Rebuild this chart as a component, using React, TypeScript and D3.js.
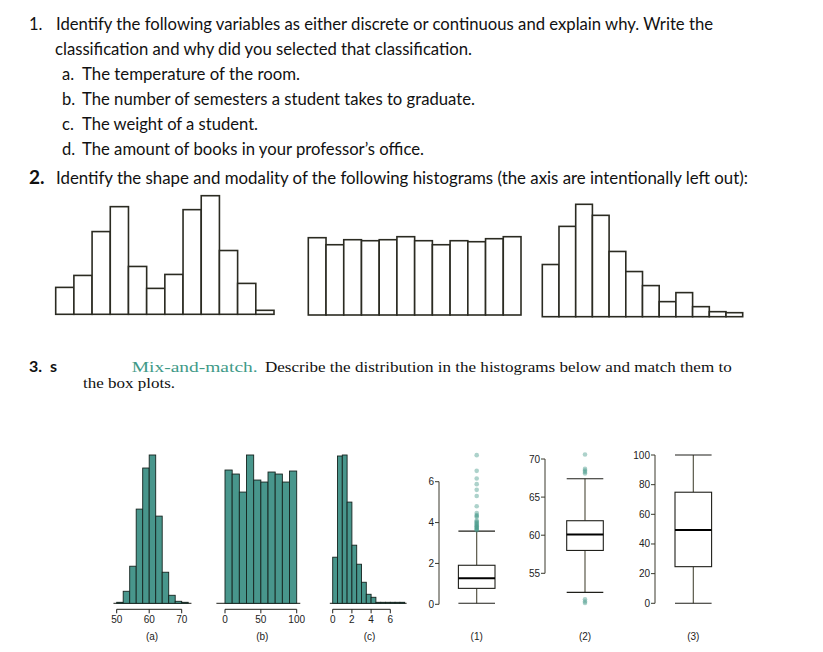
import * as d3 from "d3";

// ---- section 2: outline histograms (axis left out) ----
const bimodal = [27, 39, 83, 108, 48, 26, 40, 105, 119, 64, 31, 4];
const uniform = [77, 70, 75, 74, 75, 78, 74, 70, 74, 73, 76, 78];
const skewed = [52, 90, 112, 101, 65, 45, 31, 15, 24, 10, 5, 4];

// ---- section 3: teal histograms ----
const histA = [1, 12, 37, 94, 135, 148, 87, 31, 8, 2, 1]; // bins of 2 from 50
const histB = [133, 129, 111, 148, 123, 121, 131, 129, 121, 132]; // bins of 10 from 0
const histC = [46, 147, 148, 101, 58, 39, 21, 9, 6, 1, 1, 1, 1, 1, 1]; // bins of 0.5 from 0
const ticksA = [50, 60, 70];
const ticksB = [0, 50, 100];
const ticksC = [0, 2, 4, 6];

// ---- box plots ----
const box1 = { lo: 0.05, q1: 0.78, med: 1.27, q3: 1.91, hi: 3.58 };
const out1 = [3.62, 3.66, 3.7, 3.74, 3.78, 3.82, 3.86, 3.9, 3.95, 4.0, 4.05, 4.1, 4.27, 4.32, 4.37, 4.47, 4.8, 5.3, 5.6, 5.88, 6.16, 6.53, 7.3];
const ticks1 = [0, 2, 4, 6];
const box2 = { lo: 52.5, q1: 58.0, med: 60.1, q3: 61.9, hi: 67.4 };
const out2 = [70.6, 68.7, 68.5, 68.3, 68.1, 51.6, 51.3, 51.1];
const ticks2 = [55, 60, 65, 70];
const box3 = { lo: 0, q1: 24.7, med: 49.4, q3: 74.9, hi: 100 };
const out3: number[] = [];
const ticks3 = [0, 20, 40, 60, 80, 100];

const sans = "Lato, 'Open Sans', sans-serif";
const serif = "'Liberation Serif', 'Times New Roman', serif";
const small = "'Liberation Sans', Arial, sans-serif";
const teal = "#48968c";
const ink = "#1f1f1a";

function OutlineHist({ values, x0, x1, base, top }: { values: number[]; x0: number; x1: number; base: number; top: number }) {
  const x = d3.scaleLinear().domain([0, values.length]).range([x0, x1]);
  const y = d3.scaleLinear().domain([0, d3.max(values)!]).range([base, top]);
  return (
    <g>
      {values.map((v, i) => (
        <rect key={i} x={x(i)} y={y(v)} width={x(i + 1) - x(i)} height={base - y(v)}
          fill="#fff" stroke="#2b2b22" strokeWidth={1.6} />
      ))}
    </g>
  );
}

function TealHist({ values, start, step, ticks, ground, dom, range, caption, capX }: {
  values: number[]; start: number; step: number; ticks: number[]; ground: [number, number];
  dom: [number, number]; range: [number, number]; caption: string; capX: number;
}) {
  const x = d3.scaleLinear().domain(dom).range(range);
  const y = d3.scaleLinear().domain([0, 148]).range([603.3, 455]);
  const axisY = 609.3;
  return (
    <g>
      <line x1={x(ground[0])} x2={x(ground[1])} y1={y(0)} y2={y(0)} stroke={ink} strokeWidth={1} />
      {values.map((v, i) => (
        <rect key={i} x={x(start + i * step)} y={y(v)} width={x(start + (i + 1) * step) - x(start + i * step)}
          height={y(0) - y(v)} fill={teal} stroke="#16241f" strokeWidth={0.9} />
      ))}
      <line x1={x(ticks[0])} x2={x(ticks[ticks.length - 1])} y1={axisY} y2={axisY} stroke={ink} strokeWidth={1} />
      {ticks.map((t) => (
        <g key={t}>
          <line x1={x(t)} x2={x(t)} y1={axisY} y2={axisY + 4} stroke={ink} strokeWidth={1} />
          <text x={x(t)} y={623} textAnchor="middle" fontFamily={small} fontSize={10} fill="#222">{t}</text>
        </g>
      ))}
      <text x={capX} y={640} textAnchor="middle" fontFamily={small} fontSize={10} fill="#222">{caption}</text>
    </g>
  );
}

function BoxPlot({ stats, outliers, ticks, dom, range, axisX, cx, caption }: {
  stats: { lo: number; q1: number; med: number; q3: number; hi: number }; outliers: number[]; ticks: number[];
  dom: [number, number]; range: [number, number]; axisX: number; cx: number; caption: string;
}) {
  const y = d3.scaleLinear().domain(dom).range(range);
  const hw = 18.3;
  return (
    <g>
      <line x1={axisX} x2={axisX} y1={y(ticks[0])} y2={y(ticks[ticks.length - 1])} stroke="#3a382c" strokeWidth={1} />
      {ticks.map((t) => (
        <g key={t}>
          <line x1={axisX - 4} x2={axisX} y1={y(t)} y2={y(t)} stroke="#3a382c" strokeWidth={1} />
          <text x={axisX - 5} y={y(t)} dy="0.35em" textAnchor="end" fontFamily={small} fontSize={10} fill="#222">{t}</text>
        </g>
      ))}
      <line x1={cx} x2={cx} y1={y(stats.lo)} y2={y(stats.q1)} stroke="#4a4838" strokeWidth={1.1} />
      <line x1={cx} x2={cx} y1={y(stats.q3)} y2={y(stats.hi)} stroke="#4a4838" strokeWidth={1.1} />
      <line x1={cx - hw} x2={cx + hw} y1={y(stats.lo)} y2={y(stats.lo)} stroke={ink} strokeWidth={1.1} />
      <line x1={cx - hw} x2={cx + hw} y1={y(stats.hi)} y2={y(stats.hi)} stroke={ink} strokeWidth={1.1} />
      <rect x={cx - hw} y={y(stats.q3)} width={2 * hw} height={y(stats.q1) - y(stats.q3)} fill="#fff" stroke={ink} strokeWidth={1.1} />
      <line x1={cx - hw} x2={cx + hw} y1={y(stats.med)} y2={y(stats.med)} stroke="#000" strokeWidth={2} />
      {outliers.map((o, i) => (
        <circle key={i} cx={cx} cy={y(o)} r={2.3} fill="#4a9c8c" fillOpacity={0.45} />
      ))}
      <text x={cx} y={640} textAnchor="middle" fontFamily={small} fontSize={10} fill="#222">{caption}</text>
    </g>
  );
}

const lines1 = [
  { n: "1.", nx: 29, x: 56, y: 29.5, w: 657, t: "Identify the following variables as either discrete or continuous and explain why. Write the" },
  { n: "", nx: 0, x: 55, y: 54.5, w: 417, t: "classification and why did you selected that classification." },
  { n: "a.", nx: 62, x: 82, y: 80, w: 218, t: "The temperature of the room." },
  { n: "b.", nx: 62, x: 82, y: 105, w: 393, t: "The number of semesters a student takes to graduate." },
  { n: "c.", nx: 62, x: 82, y: 130, w: 176, t: "The weight of a student." },
  { n: "d.", nx: 62, x: 82, y: 155, w: 342, t: "The amount of books in your professor\u2019s office." },
];

export default function App() {
  return (
    <div style={{ position: "absolute", left: 0, top: 0 }}>
      <svg width={823} height={652} style={{ display: "block", background: "#fff" }}>
        {lines1.map((l, i) => (
          <g key={i}>
            {l.n && <text x={l.nx} y={l.y} fontFamily={sans} fontSize={16.5} fill="#111">{l.n}</text>}
            <text x={l.x} y={l.y} fontFamily={sans} fontSize={16.5} fill="#111" textLength={l.w} lengthAdjust="spacingAndGlyphs">{l.t}</text>
          </g>
        ))}
        <text x={29} y={184} fontFamily={sans} fontSize={19} fontWeight={700} fill="#111">2.</text>
        <text x={56} y={184} fontFamily={sans} fontSize={16.5} fill="#111" textLength={692} lengthAdjust="spacingAndGlyphs">
          Identify the shape and modality of the following histograms (the axis are intentionally left out):
        </text>

        <OutlineHist values={bimodal} x0={55.7} x1={274} base={314.3} top={195.7} />
        <OutlineHist values={uniform} x0={308.3} x1={521} base={315} top={236.7} />
        <OutlineHist values={skewed} x0={542.3} x1={742.7} base={316.7} top={204.3} />

        <text x={29} y={372} fontFamily={sans} fontSize={16} fontWeight={700} fill="#111">3.</text>
        <text x={50} y={372} fontFamily={sans} fontSize={16} fontWeight={700} fill="#111">s</text>
        <text x={131.7} y={371.5} fontFamily={serif} fontSize={14.5} fill="#3f9a88" textLength={126} lengthAdjust="spacingAndGlyphs">Mix-and-match.</text>
        <text x={265} y={371.5} fontFamily={serif} fontSize={14.5} fill="#111" textLength={466.7} lengthAdjust="spacingAndGlyphs">
          Describe the distribution in the histograms below and match them to
        </text>
        <text x={83} y={388} fontFamily={serif} fontSize={14.5} fill="#111" textLength={92} lengthAdjust="spacingAndGlyphs">the box plots.</text>

        <TealHist values={histA} start={50} step={2} ticks={ticksA} ground={[49, 73]} dom={[50, 70]} range={[116.7, 181.7]} caption="(a)" capX={152} />
        <TealHist values={histB} start={0} step={10} ticks={ticksB} ground={[-12, 105]} dom={[0, 100]} range={[225, 296.7]} caption="(b)" capX={262.3} />
        <TealHist values={histC} start={0} step={0.5} ticks={ticksC} ground={[-0.3, 7.7]} dom={[0, 6]} range={[332.7, 390.3]} caption="(c)" capX={369.5} />

        <BoxPlot stats={box1} outliers={out1} ticks={ticks1} dom={[0, 6]} range={[604.3, 481.7]} axisX={439} cx={476.7} caption="(1)" />
        <BoxPlot stats={box2} outliers={out2} ticks={ticks2} dom={[55, 70]} range={[573.3, 459]} axisX={545} cx={585} caption="(2)" />
        <BoxPlot stats={box3} outliers={out3} ticks={ticks3} dom={[0, 100]} range={[603.3, 455]} axisX={655} cx={693.3} caption="(3)" />
      </svg>
    </div>
  );
}
